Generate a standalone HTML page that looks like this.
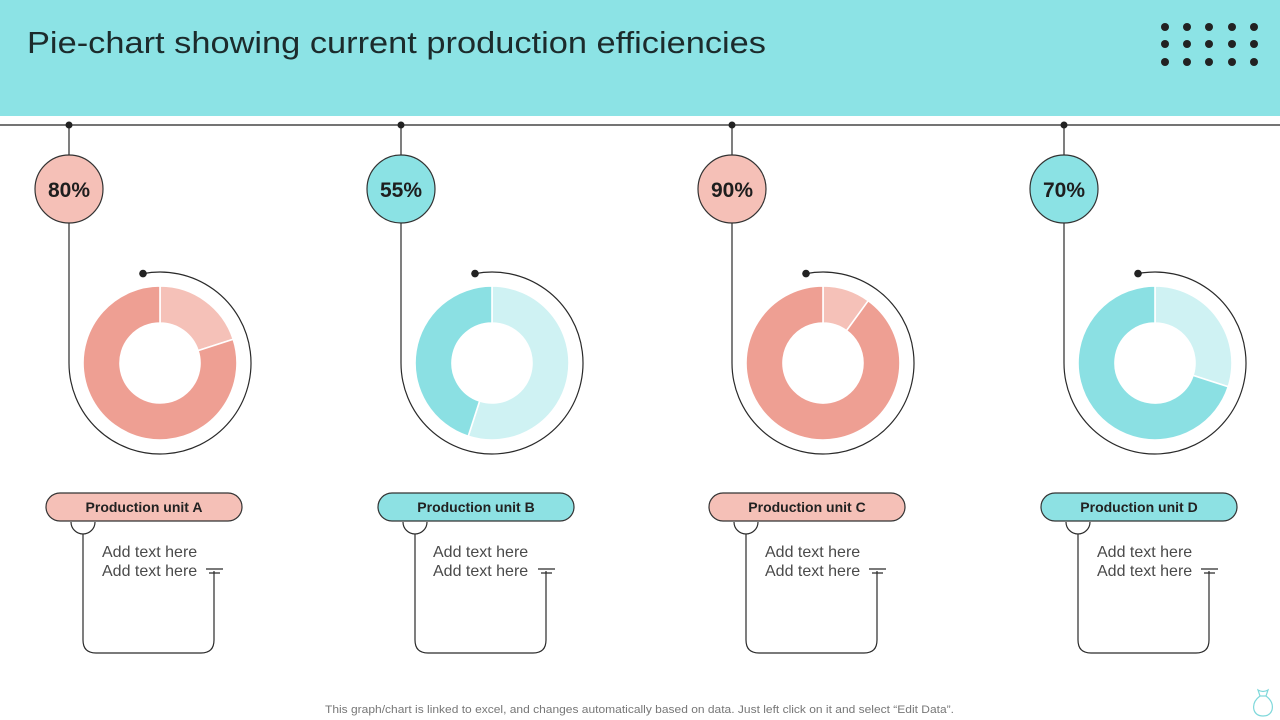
<!DOCTYPE html>
<html><head><meta charset="utf-8"><style>
html,body{margin:0;padding:0;background:#fff;}
svg{display:block;}
</style></head><body>
<svg width="1280" height="720" viewBox="0 0 1280 720" xmlns="http://www.w3.org/2000/svg">
<rect x="0" y="0" width="1280" height="116" fill="#8CE3E5"/>
<text x="27" y="53" font-family="Liberation Sans, sans-serif" font-size="31" fill="#1c2b2c" textLength="739" lengthAdjust="spacingAndGlyphs">Pie-chart showing current production efficiencies</text>
<g fill="#222">
<circle cx="1165" cy="27" r="4"/><circle cx="1187" cy="27" r="4"/><circle cx="1209" cy="27" r="4"/><circle cx="1232" cy="27" r="4"/><circle cx="1254" cy="27" r="4"/>
<circle cx="1165" cy="44" r="4"/><circle cx="1187" cy="44" r="4"/><circle cx="1209" cy="44" r="4"/><circle cx="1232" cy="44" r="4"/><circle cx="1254" cy="44" r="4"/>
<circle cx="1165" cy="62" r="4"/><circle cx="1187" cy="62" r="4"/><circle cx="1209" cy="62" r="4"/><circle cx="1232" cy="62" r="4"/><circle cx="1254" cy="62" r="4"/>
</g>
<line x1="0" y1="125" x2="1280" y2="125" stroke="#222" stroke-width="1.3"/>

<!-- Donuts -->
<g stroke="#fff" stroke-width="1.6">
<path d="M160,286 A77,77 0 0 1 233.23,339.21 L198.04,350.64 A40,40 0 0 0 160,323 Z" fill="#F5C1B8"/>
<path d="M233.23,339.21 A77,77 0 1 1 160,286 L160,323 A40,40 0 1 0 198.04,350.64 Z" fill="#EE9F93"/>
<path d="M492,286 A77,77 0 1 1 468.21,436.23 L479.64,401.04 A40,40 0 1 0 492,323 Z" fill="#CFF2F3"/>
<path d="M468.21,436.23 A77,77 0 0 1 492,286 L492,323 A40,40 0 0 0 479.64,401.04 Z" fill="#8BE0E3"/>
<path d="M823,286 A77,77 0 0 1 868.26,300.71 L846.51,330.64 A40,40 0 0 0 823,323 Z" fill="#F5C1B8"/>
<path d="M868.26,300.71 A77,77 0 1 1 823,286 L823,323 A40,40 0 1 0 846.51,330.64 Z" fill="#EE9F93"/>
<path d="M1155,286 A77,77 0 0 1 1228.23,386.79 L1193.04,375.36 A40,40 0 0 0 1155,323 Z" fill="#CFF2F3"/>
<path d="M1228.23,386.79 A77,77 0 1 1 1155,286 L1155,323 A40,40 0 1 0 1193.04,375.36 Z" fill="#8BE0E3"/>
</g>

<!-- Unit structures -->
<g fill="none" stroke="#2a2a2a" stroke-width="1.2">
<path d="M69,125 L69,155 M69,223 L69,363 A91,91 0 1 0 143,273.6"/>
<path d="M71,522 A12,12 0 0 0 95,522 M83,534 L83,640 Q83,653 96,653 L201,653 Q214,653 214,640 L214,571"/>
<path d="M206,569 L223,569 M209,573 L220,573"/>
<path d="M401,125 L401,155 M401,223 L401,363 A91,91 0 1 0 475,273.6"/>
<path d="M403,522 A12,12 0 0 0 427,522 M415,534 L415,640 Q415,653 428,653 L533,653 Q546,653 546,640 L546,571"/>
<path d="M538,569 L555,569 M541,573 L552,573"/>
<path d="M732,125 L732,155 M732,223 L732,363 A91,91 0 1 0 806,273.6"/>
<path d="M734,522 A12,12 0 0 0 758,522 M746,534 L746,640 Q746,653 759,653 L864,653 Q877,653 877,640 L877,571"/>
<path d="M869,569 L886,569 M872,573 L883,573"/>
<path d="M1064,125 L1064,155 M1064,223 L1064,363 A91,91 0 1 0 1138,273.6"/>
<path d="M1066,522 A12,12 0 0 0 1090,522 M1078,534 L1078,640 Q1078,653 1091,653 L1196,653 Q1209,653 1209,640 L1209,571"/>
<path d="M1201,569 L1218,569 M1204,573 L1215,573"/>
</g>

<g fill="#222">
<circle cx="69" cy="125" r="3.5"/><circle cx="401" cy="125" r="3.5"/><circle cx="732" cy="125" r="3.5"/><circle cx="1064" cy="125" r="3.5"/>
<circle cx="143" cy="273.6" r="3.8"/><circle cx="475" cy="273.6" r="3.8"/><circle cx="806" cy="273.6" r="3.8"/><circle cx="1138" cy="273.6" r="3.8"/>
</g>

<g stroke="#333" stroke-width="1.2">
<circle cx="69" cy="189" r="34" fill="#F5C0B7"/>
<circle cx="401" cy="189" r="34" fill="#8BE2E4"/>
<circle cx="732" cy="189" r="34" fill="#F5C0B7"/>
<circle cx="1064" cy="189" r="34" fill="#8BE2E4"/>
</g>
<g font-family="Liberation Sans, sans-serif" font-weight="bold" font-size="21" fill="#1e1e1e" text-anchor="middle">
<text x="69" y="197">80%</text>
<text x="401" y="197">55%</text>
<text x="732" y="197">90%</text>
<text x="1064" y="197">70%</text>
</g>

<g stroke="#333" stroke-width="1.2">
<rect x="46" y="493" width="196" height="28" rx="14" fill="#F5C0B7"/>
<rect x="378" y="493" width="196" height="28" rx="14" fill="#8DE1E3"/>
<rect x="709" y="493" width="196" height="28" rx="14" fill="#F5C0B7"/>
<rect x="1041" y="493" width="196" height="28" rx="14" fill="#8DE1E3"/>
</g>
<g font-family="Liberation Sans, sans-serif" font-weight="bold" font-size="14" fill="#222" text-anchor="middle">
<text x="144" y="512">Production unit A</text>
<text x="476" y="512">Production unit B</text>
<text x="807" y="512">Production unit C</text>
<text x="1139" y="512">Production unit D</text>
</g>

<g font-family="Liberation Sans, sans-serif" font-size="16" fill="#4a4a4a">
<text x="102" y="557">Add text here</text><text x="102" y="576">Add text here</text>
<text x="433" y="557">Add text here</text><text x="433" y="576">Add text here</text>
<text x="765" y="557">Add text here</text><text x="765" y="576">Add text here</text>
<text x="1097" y="557">Add text here</text><text x="1097" y="576">Add text here</text>
</g>

<text x="325" y="713" font-family="Liberation Sans, sans-serif" font-size="11" fill="#777" textLength="629" lengthAdjust="spacingAndGlyphs">This graph/chart is linked to excel, and changes automatically based on data. Just left click on it and select “Edit Data”.</text>

<g fill="none" stroke="#7FD8DB" stroke-width="1.2">
<path d="M1258,690 Q1263,693 1268,690 L1266,696 Q1274,702 1272,710 Q1270,716 1263,716 Q1256,716 1254,710 Q1252,702 1260,696 Z"/>
<path d="M1260,696 L1266,696"/>
</g>
</svg>
</body></html>
